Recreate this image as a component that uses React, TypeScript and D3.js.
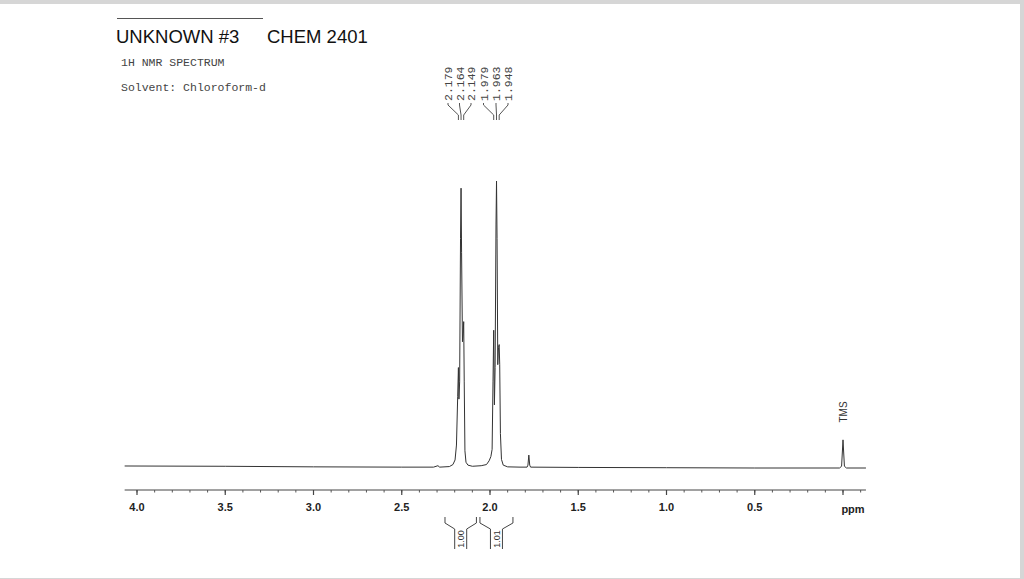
import React, { useEffect, useRef } from 'react';
import * as d3 from 'd3';

// spectrum trace: [ppm, relative intensity], tallest line = 100
const spectrum: [number, number][] = [
  [4.07, 0.7], [3.5, 0.6], [3.0, 0.4], [2.5, 0.3], [2.32, 0.3], [2.295, 0.8], [2.285, 0.3],
  [2.23, 0.5], [2.21, 1.2], [2.198, 2.8], [2.19, 8], [2.183, 25], [2.179, 35], [2.176, 24],
  [2.172, 30], [2.167, 80], [2.164, 97.5], [2.161, 75], [2.156, 44], [2.152, 47], [2.149, 51],
  [2.146, 30], [2.142, 6], [2.136, 2], [2.125, 1], [2.1, 0.6], [2.05, 0.8], [2.02, 1.2],
  [2.005, 2.5], [1.995, 4], [1.988, 6.5], [1.983, 30], [1.979, 48], [1.975, 22], [1.971, 35],
  [1.966, 85], [1.963, 100], [1.96, 80], [1.956, 36], [1.952, 42], [1.948, 43], [1.945, 36],
  [1.941, 12], [1.935, 3], [1.925, 1], [1.9, 0.4], [1.83, 0.3], [1.79, 0.3], [1.785, 1],
  [1.78, 4.5], [1.775, 1], [1.77, 0.3], [1.5, 0.2], [1.0, 0.1], [0.5, 0], [0.02, 0],
  [0.008, 0.6], [0, 9.8], [-0.008, 0.6], [-0.02, 0], [-0.13, 0],
];

const peakLabels = [2.179, 2.164, 2.149, 1.979, 1.963, 1.948];
const majorTicks = [4.0, 3.5, 3.0, 2.5, 2.0, 1.5, 1.0, 0.5];
const integralRanges: [number, number][] = [[2.255, 2.077], [2.057, 1.87]];
const integralValues = ['1.00', '1.01'];

const App = () => {
  const ref = useRef<SVGSVGElement>(null);

  useEffect(() => {
    const svg = d3.select(ref.current);
    svg.selectAll('*').remove();

    const W = 1024;
    const H = 579;
    const x = d3.scaleLinear().domain([4, 0]).range([137, 843]);
    const y = d3.scaleLinear().domain([0, 100]).range([468, 181]);
    const axisY = 490;
    const ink = '#333';

    // page + scan border
    svg.append('rect').attr('width', W).attr('height', H).attr('fill', '#d6d6d6');
    svg.append('rect').attr('x', 0).attr('y', 4).attr('width', 1020).attr('height', 574).attr('fill', '#fff');

    // header
    svg.append('line').attr('x1', 117).attr('x2', 263).attr('y1', 18.5).attr('y2', 18.5)
      .attr('stroke', '#555').attr('stroke-width', 1.2);
    const sans = 'Liberation Sans, Arial, sans-serif';
    const mono = 'Liberation Mono, Courier New, monospace';
    svg.append('text').attr('x', 116).attr('y', 43).text('UNKNOWN #3')
      .style('font-family', sans).style('font-size', '18.5px').attr('fill', '#111');
    svg.append('text').attr('x', 267).attr('y', 43).text('CHEM 2401')
      .style('font-family', sans).style('font-size', '18.5px').attr('fill', '#111');
    svg.append('text').attr('x', 121).attr('y', 66).text('1H NMR SPECTRUM')
      .style('font-family', mono).style('font-size', '11.5px').attr('fill', '#444');
    svg.append('text').attr('x', 121).attr('y', 91).text('Solvent: Chloroform-d')
      .style('font-family', mono).style('font-size', '11.5px').attr('fill', '#444');

    // spectrum trace
    const line = d3.line<[number, number]>().x((d) => x(d[0])).y((d) => y(d[1]));
    svg.append('path').datum(spectrum).attr('d', line)
      .attr('fill', 'none').attr('stroke', ink).attr('stroke-width', 1);

    // ppm axis
    svg.append('line').attr('x1', x(4.07)).attr('x2', x(-0.13)).attr('y1', axisY).attr('y2', axisY)
      .attr('stroke', '#444').attr('stroke-width', 1);
    const minor = d3.range(-1, 41).map((i) => i / 10);
    svg.selectAll('.minor').data(minor).enter().append('line')
      .attr('x1', (d) => x(d)).attr('x2', (d) => x(d))
      .attr('y1', axisY).attr('y2', axisY + 2.5)
      .attr('stroke', '#555').attr('stroke-width', 1);
    svg.selectAll('.major').data([...majorTicks, 0]).enter().append('line')
      .attr('x1', (d) => x(d)).attr('x2', (d) => x(d))
      .attr('y1', axisY).attr('y2', axisY + 5)
      .attr('stroke', '#444').attr('stroke-width', 1.2);
    svg.selectAll('.tlabel').data(majorTicks).enter().append('text')
      .attr('x', (d) => x(d)).attr('y', 511)
      .text((d) => d.toFixed(1))
      .style('font-family', sans).style('font-size', '11px').style('font-weight', 'bold')
      .style('text-anchor', 'middle').attr('fill', '#222');
    svg.append('text').attr('x', x(0) + 10).attr('y', 513).text('ppm')
      .style('font-family', sans).style('font-size', '11px').style('font-weight', 'bold')
      .style('text-anchor', 'middle').attr('fill', '#222');

    // TMS reference label
    svg.append('text').attr('transform', `translate(${x(0) + 3.5},${412}) rotate(-90)`)
      .text('TMS').style('font-family', sans).style('font-size', '10px')
      .style('text-anchor', 'middle').attr('fill', ink);

    // peak labels with connector lines
    const labelX = [448, 459.5, 471, 483.5, 496, 508];
    peakLabels.forEach((p, i) => {
      const lx = labelX[i];
      svg.append('text').attr('transform', `translate(${lx + 4},${101}) rotate(-90)`)
        .text(p.toFixed(3)).style('font-family', mono).style('font-size', '11.5px').attr('fill', '#444');
      svg.append('polyline')
        .attr('points', `${lx},103 ${lx},105 ${x(p)},115 ${x(p)},120`)
        .attr('fill', 'none').attr('stroke', '#555').attr('stroke-width', 1);
    });

    // integrals
    integralRanges.forEach(([a, b], i) => {
      const xa = x(a);
      const xb = x(b);
      const c = (xa + xb) / 2;
      svg.append('polyline')
        .attr('points', `${xa},517 ${xa},523 ${c - 6},529 ${c - 6},549`)
        .attr('fill', 'none').attr('stroke', '#444').attr('stroke-width', 1);
      svg.append('polyline')
        .attr('points', `${xb},517 ${xb},523 ${c + 6},529 ${c + 6},549`)
        .attr('fill', 'none').attr('stroke', '#444').attr('stroke-width', 1);
      svg.append('text').attr('transform', `translate(${c + 3.3},${539}) rotate(-90)`)
        .text(integralValues[i]).style('font-family', sans).style('font-size', '9px')
        .style('text-anchor', 'middle').attr('fill', ink);
    });
  }, []);

  return (
    <svg ref={ref} width={1024} height={579}
      style={{ position: 'absolute', left: 0, top: 0, display: 'block' }} />
  );
};

export default App;
